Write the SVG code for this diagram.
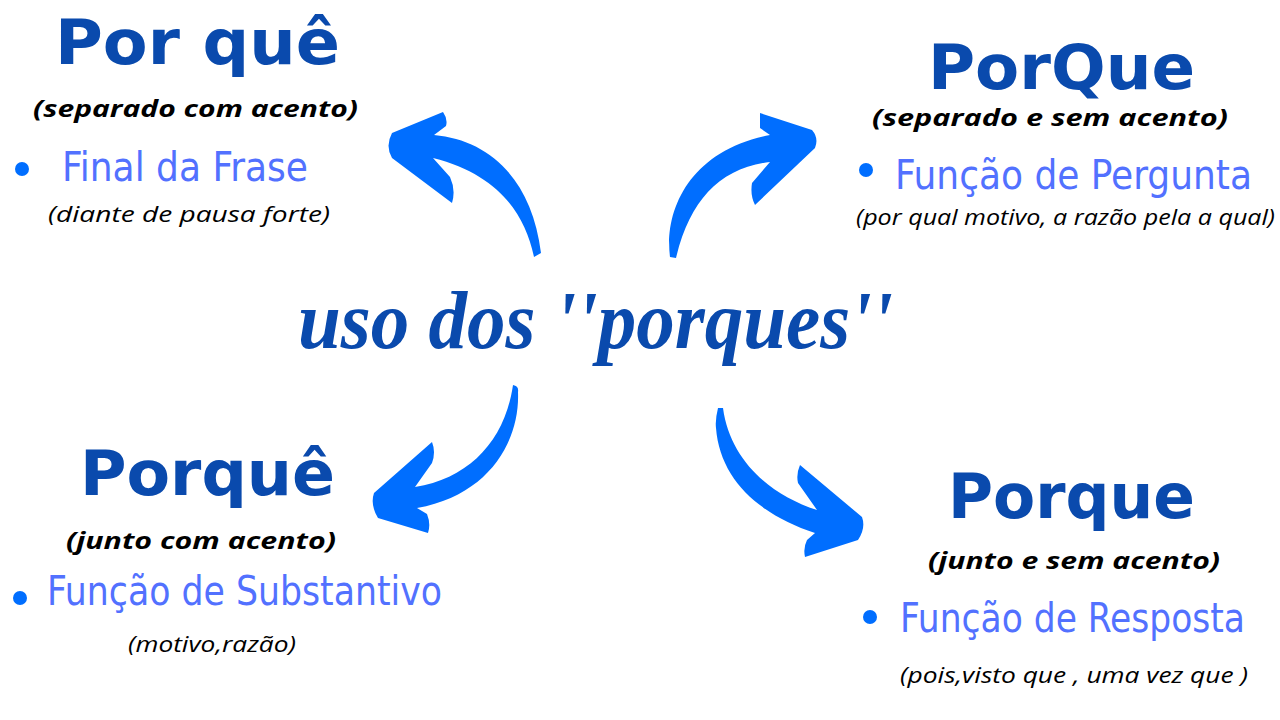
<svg xmlns="http://www.w3.org/2000/svg" width="1280" height="720" viewBox="0 0 1280 720">
<style>
.title{font-family:"DejaVu Sans","Liberation Sans",sans-serif;font-weight:bold;font-size:62px;fill:#0a4aad}
.sub{font-family:"Open Sans","Liberation Sans",sans-serif;font-weight:bold;font-style:italic;font-size:24px;fill:#000}
.item{font-family:"Liberation Sans Narrow","DejaVu Sans Condensed","Roboto",sans-serif;font-size:40px;fill:#5271ff}
.note{font-family:"Open Sans","Liberation Sans",sans-serif;font-style:italic;font-size:22px;fill:#000}
.center{font-family:"Liberation Serif",serif;font-weight:bold;font-style:italic;font-size:82px;fill:#0a4aad}
.bullet{fill:#006eff}
.arrow{fill:#006eff}
</style>
<rect width="1280" height="720" fill="#fff"/>
<g id="connectors">
<path class="arrow" d="M 392,133 L 443,112 Q 448,119 446,126 L 434,135 C 490,140 532,180 541,253 L 534,257 C 525,215 500,175 433,158 L 450,177 Q 456,190 452,203 L 392,158 Q 385,146 392,133 Z"/>
<path class="arrow" d="M 670,257 C 664,210 690,150 770,135 L 760,128 L 760,113 L 812,130 Q 819,138 815,148 L 755,205 Q 750,195 752,183 L 770,162 C 720,168 690,200 676,258 Z"/>
<path class="arrow" d="M 513,385 Q 519,386 518,392 C 520,440 490,495 417,508 L 427,514 Q 431,524 428,533 L 378,518 Q 370,505 374,493 L 432,442 Q 436,452 432,463 L 415,487 C 470,478 505,440 513,385 Z"/>
<path class="arrow" d="M 718,408 Q 715,420 716,428 C 720,480 760,515 815,533 L 807,540 Q 803,548 805,557 L 858,540 Q 866,528 862,517 L 800,465 Q 796,474 798,483 L 817,510 C 770,495 730,460 723,408 Z"/>
</g>
<g id="center">
<text class="center" x="298" y="348" textLength="595" lengthAdjust="spacingAndGlyphs">uso  dos  ''porques''</text>
</g>
<g id="por-que-separado-acento">
<text class="title" x="55" y="64" textLength="285" lengthAdjust="spacingAndGlyphs">Por quê</text>
<text class="sub" x="33" y="117" textLength="325" lengthAdjust="spacingAndGlyphs">(separado com acento)</text>
<circle class="bullet" cx="22" cy="169" r="7"/>
<text class="item" x="62" y="181" textLength="246" lengthAdjust="spacingAndGlyphs">Final da Frase</text>
<text class="note" x="48" y="222" textLength="282" lengthAdjust="spacingAndGlyphs">(diante de pausa forte)</text>
</g>
<g id="porque-separado">
<text class="title" x="928" y="89" textLength="267" lengthAdjust="spacingAndGlyphs">PorQue</text>
<text class="sub" x="872" y="126" textLength="356" lengthAdjust="spacingAndGlyphs">(separado e sem acento)</text>
<circle class="bullet" cx="866" cy="170" r="7"/>
<text class="item" x="895" y="189" textLength="357" lengthAdjust="spacingAndGlyphs">Função de Pergunta</text>
<text class="note" x="856" y="225" textLength="419" lengthAdjust="spacingAndGlyphs">(por qual motivo, a razão pela a qual)</text>
</g>
<g id="porque-junto-acento">
<text class="title" x="80" y="495" textLength="255" lengthAdjust="spacingAndGlyphs">Porquê</text>
<text class="sub" x="66" y="549" textLength="270" lengthAdjust="spacingAndGlyphs">(junto com acento)</text>
<circle class="bullet" cx="20" cy="598" r="7"/>
<text class="item" x="47" y="605" textLength="395" lengthAdjust="spacingAndGlyphs">Função de Substantivo</text>
<text class="note" x="128" y="652" textLength="168" lengthAdjust="spacingAndGlyphs">(motivo,razão)</text>
</g>
<g id="porque-junto">
<text class="title" x="948" y="518" textLength="247" lengthAdjust="spacingAndGlyphs">Porque</text>
<text class="sub" x="928" y="569" textLength="292" lengthAdjust="spacingAndGlyphs">(junto e sem acento)</text>
<circle class="bullet" cx="870" cy="617" r="7"/>
<text class="item" x="900" y="632" textLength="345" lengthAdjust="spacingAndGlyphs">Função de Resposta</text>
<text class="note" x="900" y="683" textLength="348" lengthAdjust="spacingAndGlyphs">(pois,visto que , uma vez que )</text>
</g>
</svg>
